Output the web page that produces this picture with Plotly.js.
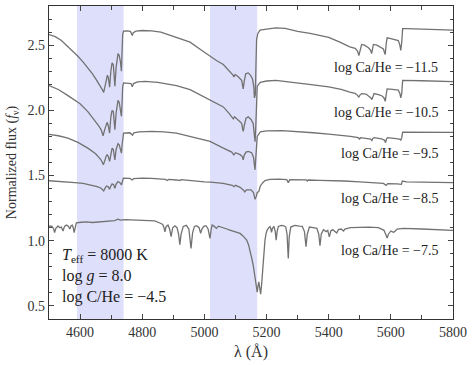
<!DOCTYPE html>
<html>
<head>
<meta charset="utf-8">
<script src="https://cdn.plot.ly/plotly-3.0.1.min.js"></script>
<style>html,body{margin:0;padding:0;background:#fff;}#chart{width:474px;height:365px;}</style>
</head>
<body>
<div id="chart"></div>
<script>
// Wavelengths (Å) and normalized flux for each model
const wl_115 = [4500,4520,4540,4561,4580,4593,4610,4625,4640,4652,4662,4670,4676,4681,4685,4688,4691,4695,4699,4703,4707,4710,4712,4716,4719,4722,4726,4730,4733,4735,4737,4740,4750,4762,4766,4768,4771,4780,4800,4830,4860,4890,4920,4954,4985,5018,5040,5061,5080,5088,5092,5095,5099,5108,5115,5120,5123,5125,5128,5133,5141,5148,5155,5159,5161,5164,5166,5168,5172,5179,5200,5230,5260,5300,5340,5372,5400,5436,5468,5485,5493,5497,5500,5506,5515,5528,5535,5538,5541,5544,5555,5568,5576,5580,5582,5585,5588,5600,5615,5624,5629,5632,5635,5638,5650,5700,5750,5800];
const fx_115 = [2.58,2.565,2.535,2.49,2.45,2.415,2.37,2.326,2.28,2.236,2.2,2.165,2.138,2.19,2.25,2.27,2.25,2.177,2.3,2.364,2.35,2.28,2.185,2.33,2.41,2.436,2.42,2.37,2.3,2.4,2.58,2.608,2.61,2.605,2.585,2.574,2.595,2.607,2.612,2.61,2.6,2.575,2.55,2.523,2.47,2.415,2.38,2.351,2.305,2.287,2.27,2.255,2.275,2.26,2.245,2.23,2.19,2.165,2.22,2.28,2.287,2.27,2.24,2.18,2.095,2.12,2.35,2.544,2.59,2.615,2.622,2.632,2.628,2.605,2.59,2.574,2.56,2.523,2.487,2.475,2.455,2.42,2.45,2.505,2.5,2.48,2.46,2.435,2.47,2.505,2.5,2.485,2.47,2.44,2.428,2.51,2.556,2.55,2.54,2.535,2.5,2.46,2.52,2.626,2.627,2.624,2.62,2.615];

const wl_105 = [4500,4530,4561,4583,4600,4625,4645,4660,4668,4674,4679,4684,4687,4691,4695,4699,4703,4707,4710,4712,4716,4719,4722,4726,4730,4733,4735,4737,4740,4755,4764,4768,4772,4785,4810,4850,4880,4910,4954,4985,5018,5040,5061,5080,5088,5093,5097,5110,5120,5123,5125,5128,5134,5141,5150,5157,5161,5163,5165,5167,5170,5180,5200,5230,5270,5300,5350,5400,5440,5468,5485,5493,5497,5500,5506,5520,5530,5536,5539,5542,5546,5560,5572,5578,5582,5585,5588,5605,5624,5629,5632,5635,5638,5700,5800];
const fx_105 = [2.19,2.16,2.113,2.075,2.05,1.99,1.93,1.88,1.85,1.805,1.85,1.895,1.908,1.88,1.826,1.95,2.0,1.99,1.92,1.851,1.98,2.05,2.077,2.06,2.0,1.954,2.05,2.18,2.21,2.21,2.205,2.18,2.205,2.218,2.222,2.215,2.205,2.19,2.159,2.12,2.082,2.055,2.026,1.975,1.954,1.935,1.95,1.925,1.9,1.86,1.838,1.88,1.94,1.95,1.93,1.9,1.8,1.76,1.85,2.1,2.185,2.215,2.225,2.23,2.22,2.21,2.195,2.18,2.16,2.14,2.13,2.115,2.1,2.115,2.128,2.125,2.11,2.095,2.082,2.105,2.128,2.12,2.11,2.095,2.069,2.12,2.164,2.16,2.155,2.13,2.095,2.13,2.23,2.227,2.22];

const wl_95 = [4500,4530,4561,4593,4625,4650,4664,4670,4675,4680,4685,4688,4691,4695,4699,4703,4707,4710,4712,4716,4719,4722,4726,4730,4733,4735,4737,4740,4760,4766,4769,4773,4790,4830,4870,4910,4954,5018,5061,5088,5095,5100,5115,5122,5125,5128,5134,5141,5152,5158,5161,5163,5165,5167,5170,5180,5200,5250,5300,5350,5400,5440,5470,5495,5499,5503,5520,5535,5539,5542,5546,5570,5580,5583,5586,5589,5610,5628,5632,5635,5638,5700,5800];
const fx_95 = [1.815,1.805,1.787,1.754,1.71,1.667,1.63,1.61,1.582,1.625,1.655,1.659,1.645,1.608,1.68,1.71,1.7,1.66,1.62,1.7,1.735,1.744,1.735,1.7,1.672,1.73,1.8,1.826,1.828,1.82,1.81,1.828,1.835,1.838,1.835,1.825,1.8,1.762,1.71,1.68,1.659,1.675,1.66,1.645,1.62,1.655,1.68,1.685,1.675,1.64,1.58,1.544,1.62,1.75,1.8,1.835,1.842,1.844,1.838,1.828,1.818,1.81,1.8,1.79,1.78,1.79,1.787,1.78,1.768,1.785,1.79,1.782,1.77,1.752,1.78,1.79,1.785,1.78,1.772,1.79,1.833,1.832,1.831];

const wl_85 = [4500,4540,4583,4610,4636,4655,4668,4676,4681,4685,4690,4695,4699,4703,4708,4712,4716,4722,4728,4733,4736,4739,4760,4768,4772,4800,4830,4850,4875,4880,4885,4910,4920,4925,4947,4980,5000,5020,5060,5090,5095,5100,5115,5125,5130,5135,5150,5158,5163,5167,5170,5175,5180,5188,5195,5211,5240,5265,5270,5275,5300,5328,5331,5334,5370,5400,5450,5500,5550,5576,5585,5590,5620,5634,5637,5650,5800];
const fx_85 = [1.46,1.455,1.446,1.44,1.428,1.415,1.403,1.382,1.405,1.42,1.415,1.395,1.42,1.436,1.43,1.403,1.435,1.454,1.445,1.428,1.45,1.479,1.478,1.466,1.476,1.48,1.478,1.476,1.47,1.462,1.47,1.466,1.462,1.468,1.462,1.455,1.452,1.45,1.44,1.425,1.415,1.425,1.41,1.39,1.375,1.39,1.39,1.37,1.318,1.34,1.37,1.377,1.42,1.445,1.462,1.47,1.472,1.468,1.446,1.468,1.47,1.467,1.458,1.466,1.463,1.462,1.458,1.452,1.445,1.44,1.425,1.438,1.436,1.432,1.458,1.452,1.446];

const wl_75 = [4500,4510,4515,4518,4522,4529,4535,4540,4545,4550,4556,4562,4567,4571,4575,4578,4581,4585,4588,4604,4620,4640,4658,4680,4700,4711,4722,4730,4745,4765,4790,4818,4840,4855,4866,4870,4873,4877,4883,4888,4893,4898,4905,4912,4917,4921,4925,4932,4942,4950,4957,4962,4968,4975,4983,4988,4992,4998,5005,5012,5018,5022,5025,5032,5039,5045,5052,5060,5070,5082,5095,5105,5115,5125,5136,5142,5147,5153,5158,5162,5166,5170,5173,5175,5178,5181,5184,5188,5192,5195,5199,5202,5207,5211,5214,5216,5219,5224,5228,5231,5234,5238,5248,5256,5262,5266,5270,5273,5278,5291,5305,5315,5322,5327,5331,5338,5350,5362,5368,5372,5376,5383,5392,5397,5402,5407,5413,5420,5426,5431,5440,5448,5452,5470,5500,5530,5560,5578,5585,5588,5592,5600,5608,5612,5620,5640,5700,5800];
const fx_75 = [1.113,1.11,1.09,1.062,1.095,1.113,1.1,1.105,1.075,1.11,1.12,1.112,1.09,1.115,1.12,1.1,1.062,1.12,1.138,1.142,1.145,1.14,1.143,1.148,1.152,1.154,1.165,1.158,1.162,1.16,1.158,1.152,1.152,1.138,1.125,1.1,1.069,1.11,1.12,1.09,1.031,1.1,1.115,1.1,1.05,0.97,1.05,1.11,1.118,1.09,0.941,1.06,1.11,1.115,1.1,1.056,1.09,1.11,1.115,1.09,1.018,1.09,1.12,1.11,1.095,1.112,1.105,1.1,1.092,1.082,1.072,1.065,1.056,1.035,1.005,0.97,0.928,0.86,0.8,0.74,0.685,0.605,0.66,0.685,0.64,0.59,0.66,0.8,0.92,1.005,1.06,1.082,1.1,1.108,1.09,1.065,1.095,1.11,1.07,1.005,1.07,1.11,1.118,1.115,1.105,1.05,0.864,1.03,1.105,1.118,1.112,1.11,1.07,0.954,1.05,1.105,1.1,1.095,1.05,0.962,1.05,1.085,1.07,1.08,1.03,1.075,1.085,1.075,1.06,1.085,1.09,1.075,1.09,1.1,1.105,1.105,1.1,1.08,1.04,1.02,1.05,1.075,1.065,1.07,1.09,1.095,1.09,1.08];

const seriesLabels = ['log Ca/He = \u221211.5','log Ca/He = \u221210.5','log Ca/He = \u22129.5','log Ca/He = \u22128.5','log Ca/He = \u22127.5'];
const labelY = [2.326, 1.98, 1.672, 1.326, 0.928];
const bands = [[4590, 4740], [5018, 5170]];
const xTicks = [4600, 4800, 5000, 5200, 5400, 5600, 5800];
const yTicks = [0.5, 1.0, 1.5, 2.0, 2.5];

const WLs = [wl_115, wl_105, wl_95, wl_85, wl_75];
const FXs = [fx_115, fx_105, fx_95, fx_85, fx_75];
const lineColor = '#727272';
const FONT = 'Liberation Serif';

const traces = WLs.map((w, i) => ({
  x: w, y: FXs[i], type: 'scatter', mode: 'lines',
  line: {color: lineColor, width: 1.3}, hoverinfo: 'skip', showlegend: false
}));

const shapes = bands.map(b => ({
  type: 'rect', xref: 'x', yref: 'paper', x0: b[0], x1: b[1], y0: 0, y1: 1,
  fillcolor: 'rgb(222,223,251)', line: {width: 0}, layer: 'below'
}));

const annotations = seriesLabels.map((t, i) => ({
  x: 5759, y: labelY[i], xref: 'x', yref: 'y', text: t, showarrow: false,
  xanchor: 'right', yanchor: 'middle', font: {family: FONT, size: 14, color: '#222'}
}));
annotations.push({
  xref: 'paper', yref: 'paper', x: 0.028, y: 0.035, xanchor: 'left', yanchor: 'bottom', align: 'left',
  showarrow: false,
  text: '<i>T</i><sub>eff</sub> = 8000 K<br>log <i>g</i> = 8.0<br>log C/He = \u22124.5',
  font: {family: FONT, size: 16, color: '#222'}
});

const axisCommon = {
  showline: true, linecolor: '#333', linewidth: 1.2, mirror: 'ticks',
  ticks: 'inside', ticklen: 5, tickwidth: 1, tickcolor: '#444',
  showgrid: false, zeroline: false,
  tickfont: {family: FONT, size: 14, color: '#333'}
};

const layout = {
  width: 474, height: 365,
  margin: {l: 49, r: 21, t: 6, b: 46},
  paper_bgcolor: '#fff', plot_bgcolor: '#fff',
  font: {family: FONT},
  xaxis: Object.assign({}, axisCommon, {
    range: [4500, 5800], tickmode: 'array', tickvals: xTicks, ticktext: xTicks.map(String),
    minor: {dtick: 100, tick0: 4500, ticks: 'inside', ticklen: 4, tickcolor: '#444'},
    title: {text: '\u03bb (\u00c5)', font: {family: FONT, size: 16, color: '#333'}, standoff: 6}
  }),
  yaxis: Object.assign({}, axisCommon, {
    range: [0.4, 2.8], tickmode: 'array', tickvals: yTicks, ticktext: yTicks.map(v => v.toFixed(1)),
    minor: {dtick: 0.1, tick0: 0.4, ticks: 'inside', ticklen: 3, tickcolor: '#444'},
    title: {text: 'Normalized flux (<i>f</i><sub>\u03bd</sub>)', font: {family: FONT, size: 14, color: '#333'}, standoff: 7}
  }),
  shapes: shapes,
  annotations: annotations
};

Plotly.newPlot('chart', traces, layout, {staticPlot: true, displayModeBar: false});
</script>
</body>
</html>
